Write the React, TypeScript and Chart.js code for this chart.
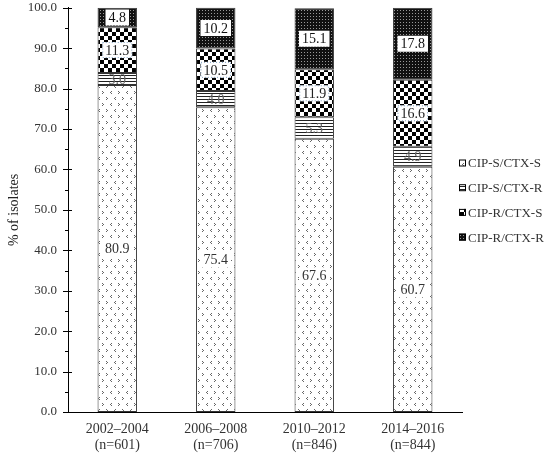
import React, { useEffect, useRef } from "react";
import { Chart, registerables } from "chart.js";

Chart.register(...registerables);

const periods = ["2002–2004", "2006–2008", "2010–2012", "2014–2016"];
const sampleSizes = ["(n=601)", "(n=706)", "(n=846)", "(n=844)"];
const seriesNames = ["CIP-S/CTX-S", "CIP-S/CTX-R", "CIP-R/CTX-S", "CIP-R/CTX-R"];
const cipSctxS = [80.9, 75.4, 67.6, 60.7];
const cipSctxR = [3.0, 4.0, 5.3, 4.9];
const cipRctxS = [11.3, 10.5, 11.9, 16.6];
const cipRctxR = [4.8, 10.2, 15.1, 17.8];
const yTicks = [0, 10, 20, 30, 40, 50, 60, 70, 80, 90, 100];

const SERIF = "'Liberation Serif', 'Times New Roman', serif";

function makeTile(w: number, h: number, draw: (c: CanvasRenderingContext2D) => void) {
  const cv = document.createElement("canvas");
  cv.width = w;
  cv.height = h;
  const c = cv.getContext("2d")!;
  draw(c);
  return cv;
}

function makePatterns(ctx: CanvasRenderingContext2D) {
  const chevron = makeTile(16, 12, (c) => {
    c.fillStyle = "#fff";
    c.fillRect(0, 0, 16, 12);
    c.fillStyle = "#666";
    const px = (x: number, y: number) => c.fillRect(x, y, 1, 1);
    const lt = (x: number, y: number) => { px(x + 1, y); px(x, y + 1); px(x + 1, y + 2); };
    const gt = (x: number, y: number) => { px(x, y); px(x + 1, y + 1); px(x, y + 2); };
    lt(2, 1); gt(10, 1);
    gt(6, 7); lt(14, 7);
  });
  const hlines = makeTile(4, 3, (c) => {
    c.fillStyle = "#fff";
    c.fillRect(0, 0, 4, 3);
    c.fillStyle = "#222";
    c.fillRect(0, 0, 4, 1);
  });
  const checker = makeTile(8, 8, (c) => {
    c.fillStyle = "#fff";
    c.fillRect(0, 0, 8, 8);
    c.fillStyle = "#000";
    c.fillRect(0, 0, 4, 4);
    c.fillRect(4, 4, 4, 4);
  });
  const dense = makeTile(3, 3, (c) => {
    c.fillStyle = "#111";
    c.fillRect(0, 0, 3, 3);
    c.fillStyle = "#999";
    c.fillRect(1, 1, 1, 1);
  });
  return [
    ctx.createPattern(chevron, "repeat")!,
    ctx.createPattern(hlines, "repeat")!,
    ctx.createPattern(checker, "repeat")!,
    ctx.createPattern(dense, "repeat")!,
  ];
}

const labelStyles = [
  { box: true, border: false, color: "#333" },
  { box: false, border: false, color: "#666" },
  { box: true, border: true, color: "#222" },
  { box: true, border: false, color: "#111" },
];

const dataLabelPlugin = {
  id: "dataLabels",
  afterDatasetsDraw(chart: any) {
    const ctx = chart.ctx;
    ctx.save();
    ctx.font = `14px ${SERIF}`;
    ctx.textAlign = "center";
    ctx.textBaseline = "middle";
    chart.data.datasets.forEach((ds: any, i: number) => {
      const meta = chart.getDatasetMeta(i);
      const st = labelStyles[i];
      meta.data.forEach((el: any, j: number) => {
        const v = ds.data[j];
        const txt = v.toFixed(1);
        const x = el.x;
        const y = (el.y + el.base) / 2;
        const w = ctx.measureText(txt).width + 6;
        const h = 16;
        if (st.box) {
          ctx.fillStyle = "#fff";
          ctx.fillRect(x - w / 2, y - h / 2, w, h);
          if (st.border) {
            ctx.setLineDash([1, 2]);
            ctx.strokeStyle = "#7f9fc0";
            ctx.lineWidth = 1;
            ctx.strokeRect(x - w / 2 + 0.5, y - h / 2 + 0.5, w - 1, h - 1);
            ctx.setLineDash([]);
          }
        }
        ctx.fillStyle = st.color;
        ctx.fillText(txt, x, y + 1);
      });
    });
    ctx.restore();
  },
};

const axisTickPlugin = {
  id: "axisTicks",
  afterDraw(chart: any) {
    const ctx = chart.ctx;
    const ys = chart.scales.y;
    const x = chart.chartArea.left;
    ctx.save();
    ctx.strokeStyle = "#000";
    ctx.lineWidth = 1;
    for (let v = 0; v <= 100; v += 5) {
      const y = Math.round(ys.getPixelForValue(v)) + 0.5;
      ctx.beginPath();
      if (v % 10 === 0) {
        ctx.moveTo(x - 5, y);
        ctx.lineTo(x + 4, y);
      } else {
        ctx.moveTo(x - 3, y);
        ctx.lineTo(x, y);
      }
      ctx.stroke();
    }
    ctx.restore();
  },
};

const legendPlugin = {
  id: "customLegend",
  afterDraw(chart: any) {
    const ctx = chart.ctx;
    ctx.save();
    ctx.font = `13px ${SERIF}`;
    ctx.textBaseline = "middle";
    ctx.textAlign = "left";
    const x0 = 459;
    const y0 = 163;
    const step = 24.7;
    chart.data.datasets.forEach((ds: any, i: number) => {
      const y = y0 + i * step;
      ctx.fillStyle = ds.backgroundColor;
      ctx.fillRect(x0, y - 3.5, 7, 7);
      ctx.strokeStyle = "#000";
      ctx.lineWidth = 1;
      ctx.strokeRect(x0 + 0.5, y - 3.5 + 0.5, 6, 6);
      ctx.fillStyle = "#333";
      ctx.fillText(ds.label, x0 + 9, y + 1);
    });
    ctx.restore();
  },
};

export default function App() {
  const ref = useRef<HTMLCanvasElement | null>(null);
  useEffect(() => {
    const canvas = ref.current!;
    const ctx = canvas.getContext("2d")!;
    const patterns = makePatterns(ctx);
    const values = [cipSctxS, cipSctxR, cipRctxS, cipRctxR];
    const chart = new Chart(canvas, {
      type: "bar",
      data: {
        labels: periods.map((p, i) => [p, sampleSizes[i]]),
        datasets: values.map((d, i) => ({
          label: seriesNames[i],
          data: d,
          backgroundColor: patterns[i] as any,
          borderColor: "#333",
          borderWidth: 1,
          borderSkipped: false,
          barPercentage: 0.4,
          categoryPercentage: 1,
        })),
      },
      options: {
        animation: false,
        responsive: false,
        maintainAspectRatio: false,
        layout: { padding: { top: 0, right: 88, bottom: 0, left: 4 } },
        plugins: {
          legend: { display: false },
          tooltip: { enabled: false },
        },
        scales: {
          x: {
            stacked: true,
            grid: { display: false, drawTicks: true, tickLength: 2 },
            border: { display: true, color: "#000", width: 1 },
            afterFit: (scale: any) => {
              scale.height = 43;
            },
            ticks: {
              color: "#333",
              font: { family: SERIF, size: 14, lineHeight: 1.1 },
              padding: 8,
            },
          },
          y: {
            stacked: true,
            min: 0,
            max: 100,
            afterBuildTicks: (scale: any) => {
              scale.ticks = yTicks.map((v) => ({ value: v }));
            },
            afterFit: (scale: any) => {
              scale.width = 64;
            },
            grid: { display: false, drawTicks: true, tickLength: 11 },
            border: { display: true, color: "#000", width: 1 },
            ticks: {
              color: "#333",
              font: { family: SERIF, size: 13 },
              padding: 0,
              callback: (v: any) => Number(v).toFixed(1),
            },
            title: {
              display: true,
              text: "% of isolates",
              color: "#222",
              font: { family: SERIF, size: 14 },
              padding: { top: 2, bottom: 0 },
            },
          },
        },
      },
      plugins: [dataLabelPlugin, axisTickPlugin, legendPlugin],
    });
    return () => chart.destroy();
  }, []);
  return (
    <div style={{ position: "absolute", left: 0, top: 0, width: 550, height: 455, background: "#fff" }}>
      <canvas ref={ref} width={550} height={455} style={{ width: 550, height: 455 }} />
    </div>
  );
}
